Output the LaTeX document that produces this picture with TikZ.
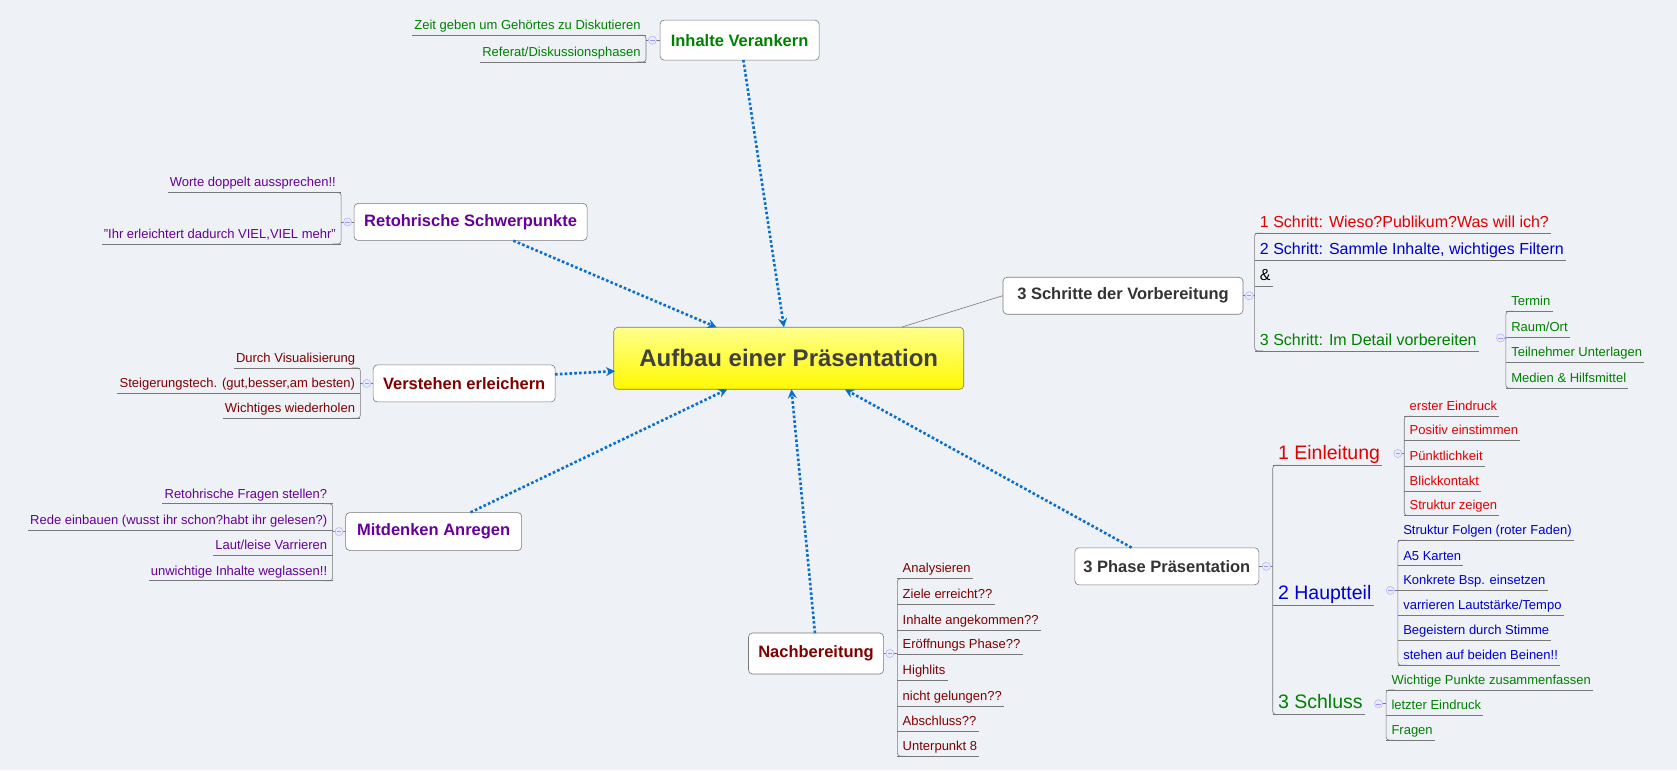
\documentclass[tikz,border=0pt]{standalone}
\usepackage{fontspec}
\setmainfont{Liberation Sans}
\usetikzlibrary{arrows.meta,calc}
\definecolor{bg}{RGB}{238,241,246}
\definecolor{cgreen}{RGB}{0,128,0}
\definecolor{cpurple}{RGB}{102,0,153}
\definecolor{cdred}{RGB}{128,0,0}
\definecolor{cred}{RGB}{225,0,0}
\definecolor{cblue}{RGB}{0,0,204}
\definecolor{crel}{RGB}{10,110,205}
\definecolor{lncol}{RGB}{120,120,120}
\tikzset{
 x=1.0695pt,y=-1.0695pt,
 leaf/.style={font=\fontsize{13}{15}\selectfont,inner xsep=2pt,inner ysep=3pt,text depth=0.25em},
 mid/.style={font=\fontsize{16}{18}\selectfont,inner xsep=2pt,inner ysep=3pt,text depth=0.25em},
 big/.style={font=\fontsize{19.5}{21}\selectfont,inner xsep=2pt,inner ysep=3pt,text depth=0.25em},
 ln/.style={draw=lncol,line width=0.6pt},
 topic/.style={draw=lncol,fill=white,rounded corners=4pt,font=\fontsize{16.5}{18}\selectfont\bfseries,line width=0.6pt},
 rel/.style={draw=crel,line width=2.6pt,dash pattern=on 2.6pt off 2.2pt,-{Stealth[length=9pt,width=9pt]}},
 knobst/.style={draw=black!25!blue!30,fill=blue!8,line width=0.5pt},
}
\newcommand\kidsR[4]{\foreach \yy/\txt [count=\i] in {#4}{%
 \node[#3,anchor=south west] (#1\i) at (#2+3,\yy) {\txt};
 \draw[ln] (#2,\yy) -- (#1\i.south east);}}
\newcommand\kidsL[4]{\foreach \yy/\txt [count=\i] in {#4}{%
 \node[#3,anchor=south east] (#1\i) at (#2-3,\yy) {\txt};
 \draw[ln] (#2,\yy) -- (#1\i.south west);}}
\newcommand\brR[3]{\draw[ln,rounded corners=3pt] (#1+8,#2) -- (#1,#2) -- (#1,#3) -- (#1+8,#3);}
\newcommand\brL[3]{\draw[ln,rounded corners=3pt] (#1-8,#2) -- (#1,#2) -- (#1,#3) -- (#1-8,#3);}
\newcommand\knob[2]{\draw[knobst] (#1,#2) circle (3.8); \draw[blue!40,line width=0.5pt] (#1-2,#2) -- (#1+2,#2);}
\begin{document}
\begin{tikzpicture}
\fill[bg] (0,0) rectangle (1568,720);
\useasboundingbox (0,0) rectangle (1568,720);

% central
\node[draw=lncol,line width=0.6pt,rounded corners=4pt,top color=yellow!45,bottom color=yellow!95!orange,
 minimum width=350pt,minimum height=62pt,font=\fontsize{24}{27}\selectfont\bfseries,text=black!75] (c) at (737.5,335) {Aufbau einer Präsentation};

% Inhalte Verankern
\node[topic,text=cgreen,minimum width=159pt,minimum height=40pt] (inh) at (691.5,37.5) {Inhalte Verankern};
\draw[ln] (inh.west) -- (604,37.5);
\brL{604}{33}{58}
\kidsL{inhk}{604}{leaf,text=cgreen}{33/Zeit geben um Gehörtes zu Diskutieren,58/{Referat/Diskussionsphasen}}
\knob{610}{37.5}

% Retohrische
\node[topic,text=cpurple,minimum width=233pt,minimum height=37pt] (ret) at (440,207.5) {Retohrische Schwerpunkte};
\draw[ln] (ret.west) -- (319,207.5);
\brL{319}{180}{228}
\kidsL{retk}{319}{leaf,text=cpurple}{180/Worte doppelt aussprechen!!,228/{"Ihr erleichtert dadurch VIEL,VIEL mehr"}}
\knob{325}{207.5}

% Verstehen
\node[topic,text=cdred,minimum width=182pt,minimum height=37pt] (ver) at (434,358.5) {Verstehen erleichern};
\draw[ln] (ver.west) -- (337,358.5);
\brL{337}{344}{391}
\kidsL{verk}{337}{leaf,text=cdred}{344/Durch Visualisierung,368/{Steigerungstech. (gut,besser,am besten)},391/Wichtiges wiederholen}
\knob{343}{358.5}

% Mitdenken
\node[topic,text=cpurple,minimum width=176pt,minimum height=38pt] (mit) at (405.5,497) {Mitdenken Anregen};
\draw[ln] (mit.west) -- (311,497);
\brL{311}{471}{543}
\kidsL{mitk}{311}{leaf,text=cpurple}{471/Retohrische Fragen stellen?,496/Rede einbauen (wusst ihr schon?habt ihr gelesen?),519/{Laut/leise Varrieren},543/unwichtige Inhalte weglassen!!}
\knob{317}{497}

% Nachbereitung
\node[topic,text=cdred,minimum width=135pt,minimum height=41pt] (nach) at (763,611) {Nachbereitung};
\draw[ln] (nach.east) -- (839,611);
\brR{839}{541}{707}
\kidsR{nachk}{839}{leaf,text=cdred}{541/Analysieren,565/Ziele erreicht??,589/Inhalte angekommen??,612/Eröffnungs Phase??,636/Highlits,660/nicht gelungen??,684/Abschluss??,707/Unterpunkt 8}
\knob{832}{611}

% 3 Schritte
\node[topic,text=black!80,minimum width=240pt,minimum height=37pt] (sch) at (1050,276.5) {3 Schritte der Vorbereitung};
\draw[lncol,line width=0.6pt] (c.north east) ++(-58,0) coordinate (cs) -- (sch.west);
\draw[ln] (sch.east) -- (1173,276.5);
\brR{1173}{218}{328}
\kidsR{schk}{1173}{mid}{218/\textcolor{cred}{1 Schritt: Wieso?Publikum?Was will ich?},243/\textcolor{cblue}{2 Schritt: Sammle Inhalte{,} wichtiges Filtern},268/\&,328/\textcolor{cgreen}{3 Schritt: Im Detail vorbereiten}}
\knob{1168}{276.5}
\draw[ln] (1403,316) -- (1408,316);
\brR{1408}{291}{363}
\kidsR{detk}{1408}{leaf,text=cgreen}{291/Termin,315/{Raum/Ort},339/Teilnehmer Unterlagen,363/Medien \& Hilfsmittel}
\knob{1403}{316}

% 3 Phase
\node[topic,text=black!80,minimum width=184pt,minimum height=37pt] (pha) at (1091,529.5) {3 Phase Präsentation};
\draw[ln] (pha.east) -- (1190,529.5);
\brR{1190}{435}{668}
\kidsR{phak}{1190}{big}{435/\textcolor{cred}{1 Einleitung},566/\textcolor{cblue}{2 Hauptteil},668/\textcolor{cgreen}{3 Schluss}}
\knob{1184}{529.5}

\draw[ln] (1307,424) -- (1313,424);
\brR{1313}{389}{482}
\kidsR{einl}{1313}{leaf,text=cred}{389/erster Eindruck,412/Positiv einstimmen,436/Pünktlichkeit,459/Blickkontakt,482/Struktur zeigen}
\knob{1307}{424}

\draw[ln] (1300,552) -- (1307,552);
\brR{1307}{505}{622}
\kidsR{haup}{1307}{leaf,text=cblue}{505/Struktur Folgen (roter Faden),529/A5 Karten,552/Konkrete Bsp. einsetzen,575/{varrieren Lautstärke/Tempo},599/Begeistern durch Stimme,622/stehen auf beiden Beinen!!}
\knob{1300}{552}

\draw[ln] (1289,658) -- (1296,658);
\brR{1296}{645}{692}
\kidsR{schl}{1296}{leaf,text=cgreen}{645/Wichtige Punkte zusammenfassen,669/letzter Eindruck,692/Fragen}
\knob{1289}{658}

% relationships
\coordinate (a1) at (695,56); \coordinate (b1) at (733,306);
\coordinate (a2) at (480,225); \coordinate (b2) at (670,306);
\coordinate (a3) at (519,350); \coordinate (b3) at (575,347);
\coordinate (a4) at (440,479); \coordinate (b4) at (680,364);
\coordinate (a5) at (762,592); \coordinate (b5) at (740,364);
\coordinate (a6) at (1058,512); \coordinate (b6) at (790,364);
\foreach \k in {1,...,6}{\draw[rel] (a\k) -- (b\k);}
\end{tikzpicture}
\end{document}
